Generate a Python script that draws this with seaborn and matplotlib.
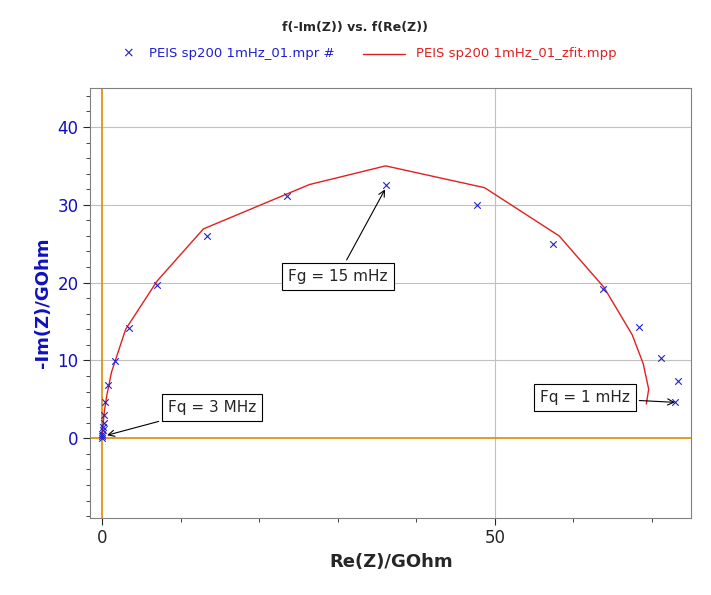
import matplotlib
matplotlib.use("Agg")
import matplotlib.pyplot as plt
import seaborn as sns
import numpy as np
from matplotlib.ticker import MultipleLocator

sns.set_style("white")
plt.rcParams['font.family'] = ['DejaVu Sans']

meas_re = [0, 0.02, 0.05, 0.1, 0.15, 0.2, 0.3, 0.4, 0.8, 1.7, 3.4, 7.0, 13.3, 23.5, 36.2, 47.7, 57.4, 63.8, 68.4, 71.2, 73.3, 73.0]
meas_im = [0, 0.3, 0.6, 1.0, 1.5, 2.0, 3.0, 4.6, 6.8, 9.9, 14.2, 19.7, 26.0, 31.1, 32.5, 30.0, 25.0, 19.2, 14.3, 10.3, 7.3, 4.7]
fit_re = [0, 0.1, 0.3, 0.6, 1.2, 3.0, 7.0, 12.9, 26.4, 36.1, 48.7, 58.2, 63.9, 67.5, 68.9, 69.6, 69.3]
fit_im = [0, 1.5, 3.5, 5.5, 8.5, 14.0, 20.2, 26.9, 32.6, 35.0, 32.2, 26.0, 19.4, 13.3, 9.6, 6.3, 4.4]

fig = plt.figure(figsize=(7.11, 5.95), dpi=100)
ax = fig.add_axes([0.127, 0.13, 0.845, 0.722])
ax.axvline(0, color='#e08a00', lw=1.2, zorder=1)
ax.axhline(0, color='#e08a00', lw=1.2, zorder=1)
for y in [10, 20, 30, 40]:
    ax.axhline(y, color='#c0c0c0', lw=0.8, zorder=0)
ax.axvline(50, color='#c0c0c0', lw=0.8, zorder=0)

sns.scatterplot(x=meas_re, y=meas_im, marker='x', color='#2020d0', s=22, linewidth=0.8, ax=ax, zorder=3)
sns.lineplot(x=fit_re, y=fit_im, color='#e02020', lw=1, sort=False, ax=ax, zorder=2)

ax.set_xlim(-1.5, 75)
ax.set_ylim(-10.2, 45)
ax.xaxis.set_major_locator(MultipleLocator(50))
ax.xaxis.set_minor_locator(MultipleLocator(10))
ax.yaxis.set_major_locator(MultipleLocator(10))
ax.yaxis.set_minor_locator(MultipleLocator(2))
ax.set_yticks([0, 10, 20, 30, 40])
ax.tick_params(axis='both', which='both', direction='out', bottom=True, left=True)
ax.tick_params(which='major', length=5)
ax.tick_params(which='minor', length=3)
ax.tick_params(axis='y', labelcolor='#1010c0', labelsize=12)
ax.tick_params(axis='x', labelsize=12)
for s in ax.spines.values():
    s.set_color('#808080')
    s.set_linewidth(0.8)
ax.set_xlabel('Re(Z)/GOhm', fontsize=13, fontweight='bold')
ax.set_ylabel('-Im(Z)/GOhm', fontsize=13, fontweight='bold', color='#1010c0')

bbox = dict(boxstyle='square,pad=0.4', fc='white', ec='black', lw=0.8)
ap = dict(arrowstyle='->', color='black', lw=0.8)
ax.annotate('Fq = 3 MHz', xy=(0.3, 0.3), xytext=(14, 4), fontsize=11, bbox=bbox, arrowprops=ap, ha='center', va='center')
ax.annotate('Fg = 15 mHz', xy=(36.2, 32.3), xytext=(30, 20.8), fontsize=11, bbox=bbox, arrowprops=ap, ha='center', va='center')
ax.annotate('Fq = 1 mHz', xy=(73.3, 4.6), xytext=(61.5, 5.2), fontsize=11, bbox=bbox, arrowprops=ap, ha='center', va='center')

fig.text(0.5, 0.948, 'f(-Im(Z)) vs. f(Re(Z))', ha='center', fontsize=9, fontweight='bold')
fig.text(0.172, 0.91, '×', color='#2020d0', fontsize=10, va='center')
fig.text(0.21, 0.91, 'PEIS sp200 1mHz_01.mpr #', color='#2020d0', fontsize=9.5, va='center')
fig.lines.append(plt.Line2D([0.51, 0.57], [0.91, 0.91], color='#e02020', lw=1, transform=fig.transFigure))
fig.text(0.585, 0.91, 'PEIS sp200 1mHz_01_zfit.mpp', color='#e02020', fontsize=9.5, va='center')

fig.savefig('out.png', dpi=100)
